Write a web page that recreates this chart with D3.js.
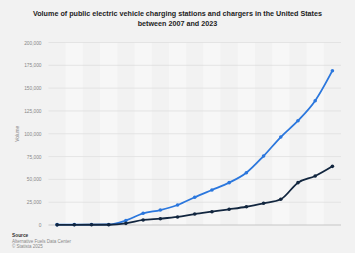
<!DOCTYPE html>
<html>
<head>
<script src="https://cdn.jsdelivr.net/npm/d3@7"></script>
<style>
  body { margin: 0; background: #f2f2f2; }
  svg { display: block; font-family: "Liberation Sans", Arial, sans-serif; }
</style>
</head>
<body>
<svg id="chart" width="355" height="253"></svg>
<script>
// data
var years = [2007, 2008, 2009, 2010, 2011, 2012, 2013, 2014, 2015, 2016, 2017, 2018, 2019, 2020, 2021, 2022, 2023];
var chargers = [400, 450, 500, 600, 5000, 12800, 16400, 21900, 30400, 38400, 46400, 57300, 75600, 96400, 114300, 136200, 169100];
var stations = [150, 200, 250, 300, 1800, 5500, 6900, 8800, 12000, 14600, 17200, 20000, 23800, 28200, 46400, 53700, 64300];
var yTicks = [0, 25000, 50000, 75000, 100000, 125000, 150000, 175000, 200000];

var margin = {top: 42.5, right: 14, bottom: 28, left: 48.5},
    width = 355 - margin.left - margin.right,
    height = 253 - margin.top - margin.bottom;

var svg = d3.select("#chart");

// title
var title = svg.append("text")
    .attr("x", 177.5)
    .attr("y", 15.5)
    .attr("text-anchor", "middle")
    .style("font-size", "7.2px")
    .style("font-weight", "bold")
    .style("fill", "#222");
title.append("tspan").attr("x", 177.5).text("Volume of public electric vehicle charging stations and chargers in the United States");
title.append("tspan").attr("x", 177.5).attr("dy", "10.8").text("between 2007 and 2023");

var g = svg.append("g")
    .attr("transform", "translate(" + margin.left + "," + margin.top + ")");

var x = d3.scaleBand().domain(years).range([0, width]);
var y = d3.scaleLinear().domain([0, 200000]).range([height, 0]);

// alternating column bands
g.selectAll(".band")
    .data(years.filter(function(d, i) { return i % 2 === 1; }))
  .enter().append("rect")
    .attr("x", function(d) { return x(d); })
    .attr("y", 0)
    .attr("width", x.bandwidth())
    .attr("height", height)
    .style("fill", "#f7f7f7");

// gridlines
g.selectAll(".grid")
    .data(yTicks.slice(1))
  .enter().append("line")
    .attr("x1", 0)
    .attr("x2", width)
    .attr("y1", function(d) { return y(d); })
    .attr("y2", function(d) { return y(d); })
    .style("stroke", "#dcdcdc")
    .style("stroke-width", 0.7);

// y axis
var yAxis = g.append("g")
    .call(d3.axisLeft(y).tickValues(yTicks).tickSize(0).tickPadding(7)
      .tickFormat(function(d) { return d === 0 ? "0" : d3.format(",")(d); }));
yAxis.select(".domain").remove();
yAxis.selectAll("text").style("font-size", "4.8px").style("fill", "#888");

// x axis line
g.append("line")
    .attr("x1", 0)
    .attr("x2", width)
    .attr("y1", height)
    .attr("y2", height)
    .style("stroke", "#bbb")
    .style("stroke-width", 0.8);

// y axis label
svg.append("text")
    .attr("transform", "translate(19," + (margin.top + height / 2) + ") rotate(-90)")
    .attr("text-anchor", "middle")
    .style("font-size", "4.8px")
    .style("fill", "#888")
    .text("Volume");

function drawSeries(values, color) {
    var line = d3.line()
        .x(function(d, i) { return x(years[i]) + x.bandwidth() / 2; })
        .y(function(d) { return y(d); })
        .curve(d3.curveMonotoneX);
    g.append("path")
        .datum(values)
        .attr("d", line)
        .style("fill", "none")
        .style("stroke", color)
        .style("stroke-width", 1.8);
    g.selectAll(null)
        .data(values)
      .enter().append("circle")
        .attr("cx", function(d, i) { return x(years[i]) + x.bandwidth() / 2; })
        .attr("cy", function(d) { return y(d); })
        .attr("r", 1.8)
        .style("fill", color);
}

drawSeries(chargers, "#2b77dd");
drawSeries(stations, "#12263f");

// source
var src = svg.append("g").attr("transform", "translate(12,0)");
src.append("text").attr("y", 237).style("font-size", "4.8px").style("fill", "#333").style("font-weight", "bold").text("Source");
src.append("text").attr("y", 242.5).style("font-size", "4.5px").style("fill", "#888").text("Alternative Fuels Data Center");
src.append("text").attr("y", 248).style("font-size", "4.5px").style("fill", "#888").text("© Statista 2025");
</script>
</body>
</html>
